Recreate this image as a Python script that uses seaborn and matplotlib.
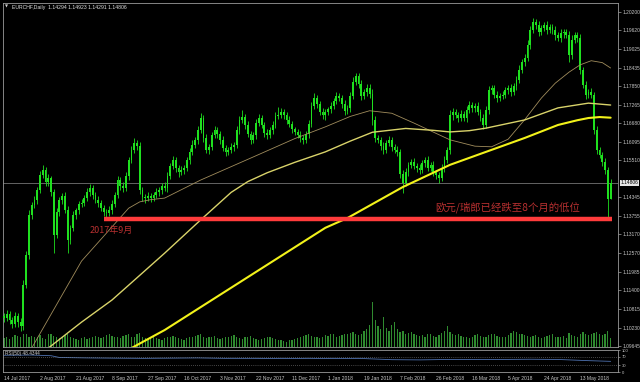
import matplotlib
matplotlib.use("Agg")
import matplotlib.pyplot as plt
import matplotlib.transforms as mtransforms
import numpy as np
import pandas as pd
import seaborn as sns

# ---------------- data ----------------
symbol_title = "EURCHF,Daily  1.14294 1.14923 1.14291 1.14806"
last_price = 1.14806
first_open = 1.1060

close = [
    1.1053, 1.1066, 1.1047, 1.1034, 1.1059, 1.1040, 1.1028, 1.1157, 1.1252, 1.1379,
    1.1410, 1.1426, 1.1458, 1.1505, 1.1521, 1.1483, 1.1495, 1.1451, 1.1315, 1.1388,
    1.1426, 1.1439, 1.1394, 1.1300, 1.1337, 1.1379, 1.1394, 1.1413, 1.1416, 1.1432,
    1.1451, 1.1464, 1.1442, 1.1426, 1.1416, 1.1401, 1.1388, 1.1385, 1.1394, 1.1413,
    1.1442, 1.1489, 1.1470, 1.1464, 1.1502, 1.1552, 1.1584, 1.1606, 1.1597, 1.1458,
    1.1435, 1.1432, 1.1439, 1.1432, 1.1442, 1.1451, 1.1458, 1.1470, 1.1464, 1.1502,
    1.1533, 1.1552, 1.1527, 1.1514, 1.1521, 1.1527, 1.1552, 1.1578, 1.1600, 1.1616,
    1.1647, 1.1685, 1.1622, 1.1584, 1.1593, 1.1631, 1.1647, 1.1634, 1.1616, 1.1590,
    1.1578, 1.1584, 1.1593, 1.1600, 1.1647, 1.1679, 1.1688, 1.1663, 1.1634, 1.1616,
    1.1631, 1.1669, 1.1685, 1.1663, 1.1638, 1.1631, 1.1647, 1.1663, 1.1691, 1.1694,
    1.1704, 1.1694, 1.1679, 1.1666, 1.1650, 1.1641, 1.1631, 1.1622, 1.1616, 1.1634,
    1.1666, 1.1723, 1.1748, 1.1729, 1.1704, 1.1694, 1.1704, 1.1713, 1.1723, 1.1739,
    1.1755, 1.1748, 1.1729, 1.1707, 1.1717, 1.1755, 1.1799, 1.1818, 1.1792, 1.1755,
    1.1767, 1.1780, 1.1761, 1.1679, 1.1622, 1.1616, 1.1597, 1.1584, 1.1606, 1.1616,
    1.1593, 1.1584, 1.1578, 1.1508, 1.1480, 1.1514, 1.1537, 1.1546, 1.1533, 1.1527,
    1.1521, 1.1543, 1.1552, 1.1527, 1.1537, 1.1514, 1.1505, 1.1495, 1.1527, 1.1552,
    1.1584, 1.1694, 1.1704, 1.1694, 1.1685, 1.1698, 1.1685, 1.1710, 1.1726, 1.1717,
    1.1723, 1.1704, 1.1685, 1.1663, 1.1710, 1.1774, 1.1780, 1.1758, 1.1748, 1.1755,
    1.1758, 1.1774, 1.1780, 1.1767, 1.1786, 1.1805, 1.1837, 1.1862, 1.1875, 1.1916,
    1.1963, 1.1988, 1.1979, 1.1957, 1.1969, 1.1979, 1.1963, 1.1973, 1.1963, 1.1947,
    1.1938, 1.1954, 1.1957, 1.1947, 1.1884, 1.1932, 1.1947, 1.1938, 1.1837, 1.1789,
    1.1758, 1.1767, 1.1758, 1.1647, 1.1584, 1.1568, 1.1546, 1.1521, 1.1429, 1.14806,
]

# wick lengths above / below the candle body, in pips
wick_up_pips = [
    10, 12, 8, 10, 14, 9, 12, 15, 12, 14,
    10, 12, 9, 14, 16, 10, 12, 8, 10, 12,
    10, 9, 12, 14, 10, 12, 8, 10, 12, 9,
    14, 12, 10, 9, 12, 10, 8, 10, 12, 14,
    10, 12, 9, 14, 12, 10, 14, 16, 10, 12,
    8, 10, 12, 9, 10, 12, 8, 10, 14, 12,
    10, 12, 9, 10, 12, 8, 10, 12, 14, 10,
    12, 16, 10, 12, 9, 10, 12, 8, 10, 12,
    9, 10, 12, 10, 14, 12, 22, 10, 12, 9,
    10, 12, 14, 10, 9, 12, 10, 12, 14, 25,
    12, 10, 9, 12, 10, 8, 10, 12, 9, 10,
    12, 14, 16, 10, 9, 12, 10, 8, 12, 10,
    12, 10, 9, 12, 10, 12, 14, 9, 10, 12,
    10, 12, 14, 16, 12, 10, 9, 12, 10, 12,
    10, 9, 12, 10, 14, 12, 10, 9, 12, 10,
    12, 10, 9, 12, 10, 12, 8, 10, 12, 14,
    10, 16, 12, 10, 9, 12, 10, 12, 14, 10,
    9, 12, 10, 12, 14, 12, 10, 9, 12, 10,
    12, 10, 9, 12, 10, 12, 14, 10, 12, 14,
    12, 14, 10, 12, 9, 10, 12, 10, 9, 12,
    10, 12, 9, 10, 12, 14, 10, 9, 12, 10,
    12, 10, 14, 10, 12, 9, 10, 12, 10, 12,
]
wick_dn_pips = [
    12, 10, 14, 12, 10, 14, 16, 12, 10, 12,
    14, 10, 12, 9, 10, 12, 14, 12, 57, 10,
    12, 14, 10, 42, 12, 10, 14, 12, 10, 9,
    10, 12, 14, 10, 12, 10, 12, 15, 10, 12,
    9, 10, 12, 14, 10, 12, 10, 9, 12, 14,
    12, 14, 10, 12, 9, 10, 12, 14, 10, 12,
    10, 9, 12, 14, 10, 12, 10, 12, 9, 10,
    12, 10, 14, 10, 12, 9, 10, 12, 14, 10,
    12, 10, 9, 12, 10, 12, 10, 14, 10, 12,
    10, 12, 9, 10, 14, 12, 10, 12, 10, 9,
    10, 12, 14, 10, 12, 9, 10, 12, 14, 10,
    12, 10, 9, 12, 10, 12, 14, 10, 12, 10,
    9, 10, 12, 14, 10, 12, 9, 10, 12, 14,
    10, 12, 14, 16, 12, 10, 14, 12, 10, 9,
    12, 10, 14, 12, 32, 10, 12, 9, 10, 12,
    14, 10, 12, 9, 10, 12, 14, 16, 10, 12,
    10, 12, 14, 10, 12, 9, 10, 12, 10, 14,
    12, 10, 9, 12, 10, 12, 14, 10, 12, 10,
    9, 10, 12, 14, 10, 12, 10, 9, 12, 10,
    12, 10, 14, 12, 10, 9, 12, 10, 12, 14,
    10, 12, 16, 10, 22, 12, 10, 12, 14, 10,
    12, 10, 9, 14, 12, 10, 12, 14, 57, 0,
]

volume = [
    60, 70, 55, 65, 80, 75, 70, 90, 85, 70,
    75, 65, 70, 80, 60, 55, 85, 90, 75, 70,
    60, 65, 80, 85, 70, 60, 55, 50, 60, 65,
    55, 60, 70, 75, 65, 60, 70, 80, 85, 75,
    65, 70, 60, 75, 80, 85, 70, 65, 90, 95,
    70, 60, 55, 65, 70, 60, 55, 50, 60, 65,
    70, 75, 65, 60, 55, 50, 60, 65, 70, 75,
    80, 85, 70, 60, 65, 70, 75, 60, 55, 60,
    65, 70, 75, 80, 70, 60, 55, 65, 70, 75,
    60, 55, 50, 55, 60, 65, 70, 60, 55, 50,
    45, 40, 35, 45, 50, 55, 60, 70, 75, 80,
    85, 75, 70, 65, 60, 70, 80, 75, 85, 90,
    70, 75, 80, 85, 90, 95, 100, 85, 80, 90,
    110, 120, 150, 300, 180, 140, 120, 200, 130, 110,
    150, 170, 120, 100, 110, 90, 95, 100, 85, 80,
    75, 80, 70, 85, 90, 75, 70, 80, 95, 110,
    140, 100, 85, 80, 90, 75, 70, 65, 60, 70,
    80, 85, 75, 70, 65, 80, 85, 90, 75, 70,
    65, 70, 80, 95, 110, 100, 90, 85, 80, 75,
    70, 75, 80, 65, 60, 70, 75, 80, 85, 70,
    65, 70, 75, 60, 95, 80, 75, 70, 90, 100,
    85, 80, 90, 95, 100, 85, 80, 90, 110, 60,
]

# moving averages (bar index, value)
ma_tan_idx = [10, 28, 45, 49, 53, 58, 71, 90, 105, 116, 125, 132, 140, 148, 161, 170,
              176, 182, 188, 194, 199, 204, 208, 212, 216, 219]
ma_tan_val = [1.0958, 1.1233, 1.1400, 1.1420, 1.1427, 1.1432, 1.1489, 1.1562, 1.1620,
              1.1657, 1.1690, 1.1708, 1.1700, 1.1669, 1.1616, 1.1596, 1.1594, 1.1618,
              1.1680, 1.1748, 1.1795, 1.1830, 1.1853, 1.1866, 1.1860, 1.1843]
ma_mid_idx = [16, 28, 39, 48, 58, 71, 82, 88, 95, 105, 116, 125, 133, 145, 155, 161,
              168, 174, 188, 200, 211, 219]
ma_mid_val = [1.0958, 1.1040, 1.1110, 1.1180, 1.1258, 1.1363, 1.1450, 1.1484, 1.1512,
              1.1545, 1.1578, 1.1612, 1.1640, 1.1652, 1.1646, 1.1641, 1.1645, 1.1653,
              1.1679, 1.1717, 1.1732, 1.1726]
ma_low_idx = [46, 58, 116, 124, 144, 161, 174, 188, 200, 207, 211, 215, 219]
ma_low_val = [1.0958, 1.1015, 1.1338, 1.1369, 1.1467, 1.1537, 1.1578, 1.1622, 1.1663,
              1.1678, 1.1685, 1.1688, 1.1686]

rsi_idx = [0, 10, 17, 20, 30, 40, 50, 60, 70, 80, 90, 100, 110, 120, 130, 140, 150,
           160, 170, 180, 190, 200, 210, 219]
rsi_val = [76, 77, 74, 66, 64, 63, 62, 63, 64, 62, 62, 61, 62, 61, 61, 56, 55, 57,
           57, 57, 58, 57, 52, 48.4]
rsi_label = "RSI(50) 48.4344"

support_level = 1.1365
support_from_bar = 36
support_to_bar = 219.5

date_labels = ["14 Jul 2017", "2 Aug 2017", "21 Aug 2017", "8 Sep 2017", "27 Sep 2017",
               "16 Oct 2017", "3 Nov 2017", "22 Nov 2017", "11 Dec 2017", "1 Jan 2018",
               "19 Jan 2018", "7 Feb 2018", "26 Feb 2018", "16 Mar 2018", "5 Apr 2018",
               "24 Apr 2018", "13 May 2018"]
bars_per_label = 13

price_ticks = [1.09645, 1.10230, 1.10815, 1.11400, 1.11985, 1.12570, 1.13170, 1.13755,
               1.14345, 1.15510, 1.16095, 1.16680, 1.17265, 1.17850, 1.18435,
               1.19025, 1.19620, 1.20200]

note_main = "欧元/瑞郎已经跌至8个月的低位"
note_sep = "2017年9月"

# ---------------- derived OHLC ----------------
n = len(close)
idx = np.arange(n)
c = np.array(close)
o = np.concatenate([[first_open], c[:-1]])
hi = np.maximum(o, c) + np.array(wick_up_pips) * 1e-4
lo = np.minimum(o, c) - np.array(wick_dn_pips) * 1e-4
df = pd.DataFrame({"bar": idx, "open": o, "high": hi, "low": lo, "close": c,
                   "volume": volume})

# ---------------- style ----------------
sns.set_theme(style="dark", rc={"axes.facecolor": "black", "figure.facecolor": "black",
                                "axes.grid": False})
plt.rcParams["font.family"] = ["Liberation Sans", "DejaVu Sans"]
CJK = ["Noto Sans CJK SC", "DejaVu Sans"]

W, H = 640, 382
fig = plt.figure(figsize=(W / 100, H / 100), dpi=100)
fig.patch.set_facecolor("black")

ax = fig.add_axes([3 / W, 1 - 347 / H, 615 / W, 344 / H])
rsi_ax = fig.add_axes([3 / W, 1 - 372 / H, 615 / W, 22 / H], sharex=ax)
vol_ax = ax.twinx()
ax.set_zorder(2)
vol_ax.set_zorder(1)
ax.patch.set_visible(False)
vol_ax.set_facecolor("black")

spine_col = "#9a9a9a"
text_col = "#c8c8c8"
green = "#1fe01f"

# volume
vol_ax.bar(df["bar"], df["volume"], width=0.45, color="#2f8a2f", linewidth=0)
vol_ax.set_ylim(0, 2300)
vol_ax.set_yticks([])
for s in vol_ax.spines.values():
    s.set_visible(False)

# candles
ax.vlines(df["bar"], df["low"], df["high"], color=green, linewidth=0.6, zorder=3)
ax.bar(df["bar"], df["close"] - df["open"], bottom=df["open"], width=0.65,
       color=green, linewidth=0, zorder=3)

# moving averages
sns.lineplot(x=ma_tan_idx, y=ma_tan_val, ax=ax, color="#a08c5c", linewidth=0.6, zorder=4)
sns.lineplot(x=ma_mid_idx, y=ma_mid_val, ax=ax, color="#d9d36a", linewidth=1.0, zorder=4)
sns.lineplot(x=ma_low_idx, y=ma_low_val, ax=ax, color="#f2f21a", linewidth=1.5, zorder=4)

# current price line
ax.axhline(last_price, color="#8a8a8a", linewidth=0.5, zorder=2)

# support line
ax.hlines(support_level, support_from_bar, support_to_bar, color="#ff3b3b",
          linewidth=3.2, zorder=5)

ax.text(155.6, 1.1404, note_main, color="#b83030", fontsize=7.5, family=CJK,
        ha="left", va="center", zorder=6)
ax.text(31, 1.1330, note_sep, color="#b83030", fontsize=6.5, family=CJK,
        ha="left", va="center", zorder=6)

ax.set_xlim(-0.36, 221.66)
ax.set_ylim(1.09614, 1.20484)
ax.yaxis.tick_right()
ax.set_yticks(price_ticks)
ax.set_yticklabels([f"{t:.5f}" for t in price_ticks])
ax.tick_params(axis="y", colors=text_col, labelsize=3.5, length=2, width=0.4, pad=1,
               direction="out")
ax.tick_params(axis="x", bottom=False, labelbottom=False)
ax.set_xlabel("")
ax.set_ylabel("")
for s in ax.spines.values():
    s.set_color(spine_col)
    s.set_linewidth(0.6)

trans = mtransforms.blended_transform_factory(ax.transAxes, ax.transData)
ax.text(1.004, last_price, f"{last_price:.5f}", transform=trans, fontsize=3.5,
        color="black", ha="left", va="center", zorder=7,
        bbox=dict(facecolor="#e6e6e6", edgecolor="none", pad=0.5))

fig.text(5 / W, 1 - 7 / H, "▼", fontsize=2.8, color="#d0d0d0", va="center",
         family=["DejaVu Sans"])
fig.text(12 / W, 1 - 7 / H, symbol_title, fontsize=3.7, color="#e0e0e0", va="center")

# RSI panel
rsi_ax.set_facecolor("black")
sns.lineplot(x=rsi_idx, y=rsi_val, ax=rsi_ax, color="#4f72b0", linewidth=0.6)
for lvl in (70, 30):
    rsi_ax.axhline(lvl, color="#8a8a8a", linewidth=0.5, linestyle=(0, (1, 2)))
rsi_ax.set_ylim(0, 100)
rsi_ax.yaxis.tick_right()
rsi_ax.set_yticks([0, 30, 70, 100])
rsi_ax.set_yticklabels(["0", "30", "70", "100"])
rsi_ax.tick_params(axis="y", colors=text_col, labelsize=3.0, length=1.5, width=0.4, pad=1)
rsi_ax.text(0.004, 0.82, rsi_label, transform=rsi_ax.transAxes, fontsize=3.4,
            color="#d0d0d0", ha="left", va="center")
label_bars = [k * bars_per_label for k in range(len(date_labels))]
rsi_ax.set_xticks(label_bars)
rsi_ax.set_xticklabels(date_labels, ha="left")
rsi_ax.tick_params(axis="x", colors=text_col, labelsize=3.6, length=2, width=0.4, pad=1)
rsi_ax.set_xlabel("")
rsi_ax.set_ylabel("")
for s in rsi_ax.spines.values():
    s.set_color(spine_col)
    s.set_linewidth(0.6)

fig.savefig("out.png", dpi=100, facecolor="black")
